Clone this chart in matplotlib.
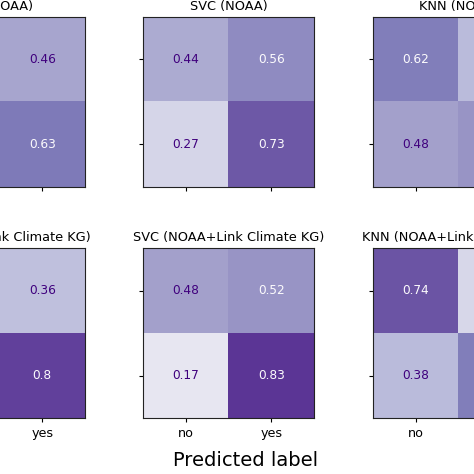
import numpy as np
import matplotlib
matplotlib.use("Agg")
import matplotlib.pyplot as plt

# panel titles, row-major (2 rows x 3 columns)
titles = [
    "RF (NOAA)", "SVC (NOAA)", "KNN (NOAA)",
    "RF (NOAA+Link Climate KG)", "SVC (NOAA+Link Climate KG)",
    "KNN (NOAA+Link Climate KG)",
]

# normalised confusion matrices, same order as titles
rf_noaa = [[0.54, 0.46], [0.37, 0.63]]
svc_noaa = [[0.44, 0.56], [0.27, 0.73]]
knn_noaa = [[0.62, 0.38], [0.48, 0.52]]
rf_kg = [[0.64, 0.36], [0.20, 0.80]]
svc_kg = [[0.48, 0.52], [0.17, 0.83]]
knn_kg = [[0.74, 0.26], [0.38, 0.62]]

matrices = [rf_noaa, svc_noaa, knn_noaa, rf_kg, svc_kg, knn_kg]
class_labels = ["no", "yes"]

cmap = plt.get_cmap("Purples")

fig = plt.figure(figsize=(4.74, 4.74), dpi=100)

W = 474.0
col_left = [-86, 143, 373]      # pixel left edges of the three columns
row_top = [17, 248]             # pixel top edges of the two rows
ax_w, ax_h = 171, 170

for k, (title, cm) in enumerate(zip(titles, matrices)):
    r, c = divmod(k, 3)
    left = col_left[c] / W
    bottom = (W - row_top[r] - ax_h) / W
    ax = fig.add_axes([left, bottom, ax_w / W, ax_h / W])

    cm = np.array(cm)
    ax.imshow(cm, cmap=cmap, vmin=0, vmax=1, aspect="auto",
              interpolation="nearest")

    thresh = (cm.max() + cm.min()) / 2.0
    for i in range(2):
        for j in range(2):
            color = cmap(1.0) if cm[i, j] < thresh else cmap(0.0)
            ax.text(j, i, format(cm[i, j], ".2g"),
                    ha="center", va="center",
                    color=color, fontsize=8.7)

    ax.set_xticks(range(2))
    ax.set_yticks(range(2))
    if r == 1:
        ax.set_xticklabels(class_labels, fontsize=9.2)
    else:
        ax.set_xticklabels([])
    if c == 0:
        ax.set_yticklabels(class_labels, fontsize=9.2)
    else:
        ax.set_yticklabels([])
    ax.tick_params(length=3.2, width=0.8)
    for s in ax.spines.values():
        s.set_linewidth(0.8)
        s.set_color("#222222")

    ax.set_title(title, fontsize=9.3, pad=5)

fig.text(246 / W, (W - 460) / W, "Predicted label",
         ha="center", va="center", fontsize=14)

fig.savefig("out.png", dpi=100)
